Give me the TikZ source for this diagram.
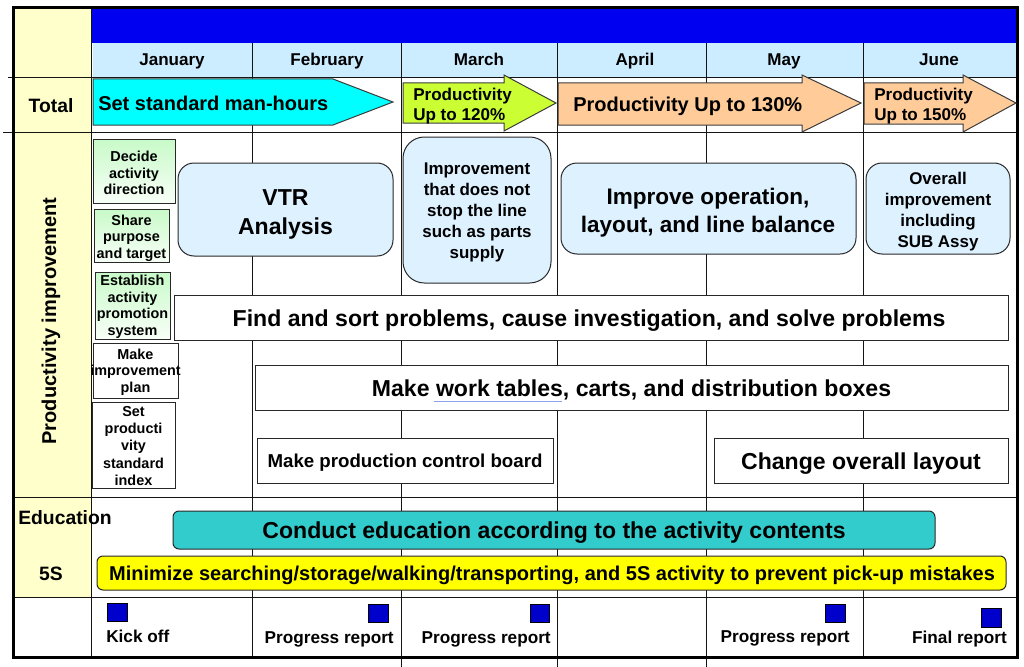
\documentclass[tikz,border=0pt]{standalone}
\usepackage{fontspec}
\setmainfont{Liberation Sans}
\usepackage{tikz}

\begin{document}
\begin{tikzpicture}[x=0.75pt,y=0.75pt,yscale=-1,xscale=1,
  gridline/.style={draw={rgb, 255:red, 20; green, 20; blue, 20 }, line width=0.6},
  outerframe/.style={draw={rgb, 255:red, 0; green, 0; blue, 0 }, line width=2.25},
  box/.style={draw={rgb, 255:red, 40; green, 40; blue, 40 }, line width=0.75, fill=white},
  softbox/.style={box, fill={rgb, 255:red, 222; green, 241; blue, 255 }, rounded corners=12},
  greenbox/.style={box, top color={rgb, 255:red, 200; green, 250; blue, 200 }, bottom color={rgb, 255:red, 248; green, 255; blue, 248 }},
  arrowbox/.style={draw={rgb, 255:red, 60; green, 60; blue, 60 }, line width=0.75},
  msquare/.style={draw={rgb, 255:red, 0; green, 0; blue, 0 }, line width=0.6, fill={rgb, 255:red, 0; green, 0; blue, 204 }},
  txt/.style={inner sep=0.75pt, align=center},
  mon/.style={txt, anchor=base, font=\fontsize{12.8}{15}\selectfont\bfseries},
  side/.style={txt, font=\fontsize{14.5}{17}\selectfont\bfseries},
  small/.style={txt, font=\fontsize{10.8}{12.4}\selectfont\bfseries},
  mid/.style={txt, font=\fontsize{12.7}{15.75}\selectfont\bfseries},
  big/.style={txt, font=\fontsize{17.3}{21}\selectfont\bfseries},
  note/.style={txt, font=\fontsize{12.9}{15}\selectfont\bfseries}
]
\useasboundingbox (0,0) rectangle (1024,667);

%Shape: Rectangle (side column, title bar, month header)
\fill [fill={rgb, 255:red, 255; green, 255; blue, 204 }] (14,9) rectangle (91,597);
\fill [fill={rgb, 255:red, 0; green, 0; blue, 240 }] (91,9) rectangle (1016,43);
\fill [fill={rgb, 255:red, 204; green, 236; blue, 255 }] (93,43) rectangle (1016,77);

%Straight Lines (table grid)
\draw [gridline] (8,77) -- (1016,77);
\draw [gridline] (3,132) -- (1016,132);
\draw [gridline] (14,497) -- (1016,497);
\draw [gridline] (14,597) -- (1016,597);
\draw [gridline] (91,9) -- (91,657);
\foreach \cx in {252,863} {
  \draw [gridline] (\cx,43) -- (\cx,657);
}
\foreach \cx in {401,557,706} {
  \draw [gridline] (\cx,43) -- (\cx,667);
}

%Shape: Rectangle (outer frame)
\draw [outerframe] (13,8) rectangle (1017,657);

%Shape: Arrows (total row)
\draw [arrowbox, fill={rgb, 255:red, 0; green, 255; blue, 255 }] (93,79) -- (333,79) -- (393,102) -- (333,125) -- (93,125) -- cycle;
\draw [arrowbox, fill={rgb, 255:red, 204; green, 255; blue, 51 }] (403,83) -- (504,83) -- (504,75) -- (556,103) -- (504,131) -- (504,123) -- (403,123) -- cycle;
\draw [arrowbox, fill={rgb, 255:red, 255; green, 204; blue, 153 }] (558,83) -- (802,83) -- (802,75) -- (861,103) -- (802,132) -- (802,125) -- (558,125) -- cycle;
\draw [arrowbox, fill={rgb, 255:red, 255; green, 204; blue, 153 }] (864,83) -- (963,83) -- (963,75) -- (1016,103) -- (963,132) -- (963,124) -- (864,124) -- cycle;

%Shape: Rectangle (first steps)
\draw [greenbox] (93,139) rectangle (175,203);
\draw [greenbox] (94,209) rectangle (169,262);
\draw [greenbox] (95,272) rectangle (170,339);
\draw [box] (93,343) rectangle (178,398);
\draw [box] (92,402) rectangle (175,488);

%Shape: Rounded Rect (analysis and improvement)
\draw [softbox] (178,163) rectangle (393,256);
\draw [softbox, rounded corners=16] (403,137) rectangle (551,283);
\draw [softbox] (561,163) rectangle (856,254);
\draw [softbox] (866,163) rectangle (1010,254);

%Shape: Rectangle (long activities)
\draw [box] (174,295) rectangle (1008,340);
\draw [box] (255,365) rectangle (1008,410);
\draw [box] (257,438) rectangle (553,483);
\draw [box] (714,438) rectangle (1008,483);

%Shape: Rounded Rect (education and 5S)
\draw [box, rounded corners=4.5, fill={rgb, 255:red, 51; green, 204; blue, 204 }] (173,511) rectangle (935,549);
\draw [box, rounded corners=4.5, fill={rgb, 255:red, 255; green, 255; blue, 0 }] (97,556) rectangle (1006,590);

%Shape: Square (milestones)
\draw [msquare] (107,603) rectangle (127,621);
\draw [msquare] (368,604) rectangle (388,622);
\draw [msquare] (530,604) rectangle (549,622);
\draw [msquare] (825,604) rectangle (845,622);
\draw [msquare] (981,608) rectangle (1001,627);

% Text Node (months)
\draw (172,66) node (jan) [mon] {January};
\draw (327,66) node (feb) [mon] {February};
\draw (479,66) node (mar) [mon] {March};
\draw (635,66) node (apr) [mon] {April};
\draw (784,66) node (may) [mon] {May};
\draw (939,66) node (jun) [mon] {June};

% Text Node (side labels)
\draw (51,106) node (total) [side] {Total};
\draw (51,321) node (prodImp) [side, rotate=90, font=\fontsize{15}{17}\selectfont\bfseries] {Productivity improvement};
\draw (17,518) node (edu) [side, anchor=west] {Education};
\draw (51,574) node (fiveS) [side] {5S};

% Text Node (total row)
\draw (97,103) node (stdHours) [txt, anchor=west, font=\fontsize{15}{18}\selectfont\bfseries] {Set standard man-hours};
\draw (412,106) node (up120) [txt, anchor=west, align=left, font=\fontsize{12.8}{15}\selectfont\bfseries] {Productivity\\Up to 120\%};
\draw (572,106) node (up130) [txt, anchor=west, font=\fontsize{15}{18}\selectfont\bfseries] {Productivity Up to 130\%};
\draw (873,106) node (up150) [txt, anchor=west, align=left, font=\fontsize{12.8}{15}\selectfont\bfseries] {Productivity\\Up to 150\%};

% Text Node (first steps)
\draw (134,173) node (decide) [small] {Decide\\activity\\direction};
\draw (131.5,238) node (share) [small] {Share\\purpose\\and target};
\draw (132.5,307) node (establish) [small] {Establish\\activity\\promotion\\system};
\draw (135.5,372) node (plan) [small] {Make\\improvement\\plan};
\draw (133.5,446) node (stdIndex) [small, font=\fontsize{10.8}{13}\selectfont\bfseries] {Set\\producti\\vity\\standard\\index};

% Text Node (analysis and improvement)
\draw (285.5,214) node (vtr) [big, font=\fontsize{17.3}{21.75}\selectfont\bfseries] {VTR\\Analysis};
\draw (477,212.5) node (noStop) [mid] {Improvement\\that does not\\stop the line\\such as parts\\supply};
\draw (708,213) node (operation) [big, font=\fontsize{16.9}{21}\selectfont\bfseries] {Improve operation,\\layout, and line balance};
\draw (938,212) node (overall) [mid] {Overall\\improvement\\including\\SUB Assy};

% Text Node (long activities)
\draw (589,321) node (findSort) [big] {Find and sort problems, cause investigation, and solve problems};
\draw (631.5,390) node (workTables) [big] {Make work tables, carts, and distribution boxes};
\draw (405,463) node (ctrlBoard) [txt, font=\fontsize{14}{17}\selectfont\bfseries] {Make production control board};
\draw (861,464) node (layout) [big] {Change overall layout};
\draw [draw={rgb, 255:red, 140; green, 160; blue, 235 }, line width=0.6] (434,401) -- (562,401);

% Text Node (education and 5S)
\draw (554,533) node (conduct) [big] {Conduct education according to the activity contents};
\draw (552,575) node (minimize) [txt, font=\fontsize{15}{18}\selectfont\bfseries] {Minimize searching/storage/walking/transporting, and 5S activity to prevent pick-up mistakes};

% Text Node (milestones)
\draw (105,636) node (kickoff) [note, anchor=west] {Kick off};
\draw (395,639) node (report1) [note, anchor=east] {Progress report};
\draw (552,639) node (report2) [note, anchor=east] {Progress report};
\draw (851,638) node (report3) [note, anchor=east] {Progress report};
\draw (1008,639) node (final) [note, anchor=east] {Final report};

\end{tikzpicture}
\end{document}
